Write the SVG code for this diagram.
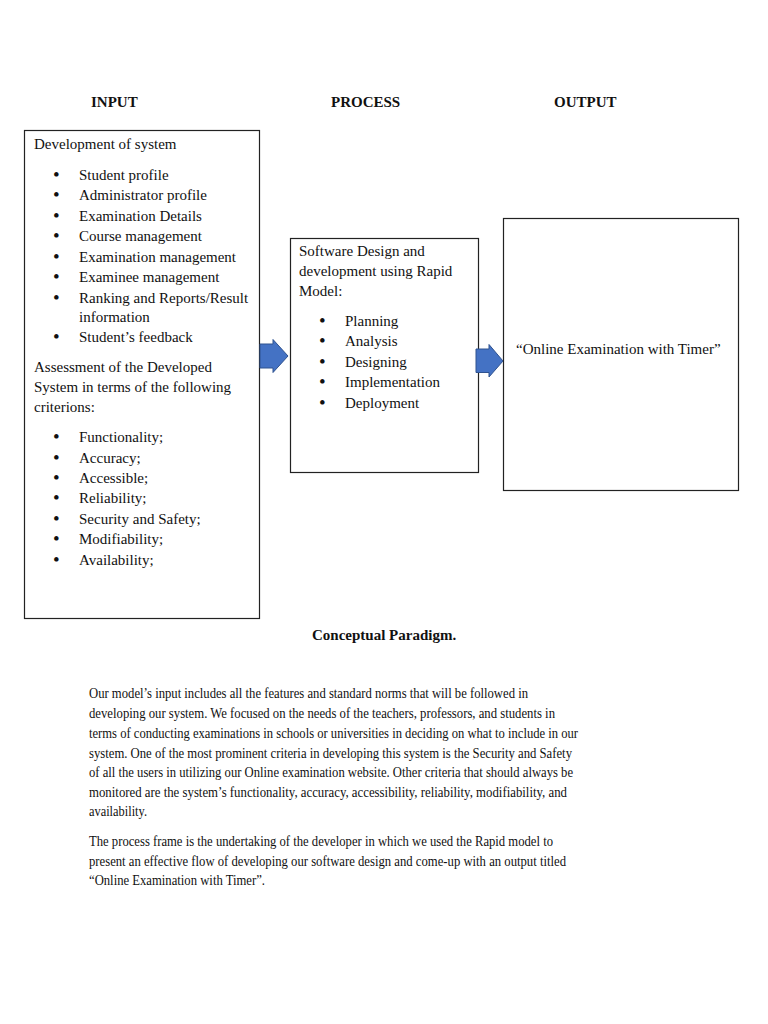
<svg xmlns="http://www.w3.org/2000/svg" width="768" height="1024" viewBox="0 0 768 1024">
<style>
text{font-family:"Liberation Serif","Times New Roman",serif;font-size:15px;fill:#111}
.h{font-weight:bold}
.b{font-size:19px}
.box{fill:#fff;stroke:#222;stroke-width:1.2}
.arrow{fill:#4472C4;stroke:#2F528F;stroke-width:1}
</style>
<rect width="768" height="1024" fill="#fff"/>
<g id="headers">
<text class="h" x="91" y="107">INPUT</text>
<text class="h" x="331" y="107">PROCESS</text>
<text class="h" x="554" y="107">OUTPUT</text>
</g>
<g id="input">
<rect class="box" x="24.5" y="130.5" width="235" height="488"/>
<text x="34" y="149">Development of system</text>
<g>
<text class="b" x="53" y="181">•</text><text x="79" y="180">Student profile</text>
<text class="b" x="53" y="201">•</text><text x="79" y="200">Administrator profile</text>
<text class="b" x="53" y="222">•</text><text x="79" y="221">Examination Details</text>
<text class="b" x="53" y="242">•</text><text x="79" y="241">Course management</text>
<text class="b" x="53" y="263">•</text><text x="79" y="262">Examination management</text>
<text class="b" x="53" y="283">•</text><text x="79" y="282">Examinee management</text>
<text class="b" x="53" y="304">•</text><text x="79" y="303">Ranking and Reports/Result</text>
<text x="79" y="322">information</text>
<text class="b" x="53" y="343">•</text><text x="79" y="342">Student’s feedback</text>
</g>
<text x="34" y="372">Assessment of the Developed</text>
<text x="34" y="392">System in terms of the following</text>
<text x="34" y="412">criterions:</text>
<g>
<text class="b" x="53" y="443">•</text><text x="79" y="442">Functionality;</text>
<text class="b" x="53" y="464">•</text><text x="79" y="463">Accuracy;</text>
<text class="b" x="53" y="484">•</text><text x="79" y="483">Accessible;</text>
<text class="b" x="53" y="504">•</text><text x="79" y="503">Reliability;</text>
<text class="b" x="53" y="525">•</text><text x="79" y="524">Security and Safety;</text>
<text class="b" x="53" y="545">•</text><text x="79" y="544">Modifiability;</text>
<text class="b" x="53" y="566">•</text><text x="79" y="565">Availability;</text>
</g>
</g>
<g id="process">
<rect class="box" x="290.5" y="238.5" width="188" height="234"/>
<text x="299" y="256">Software Design and</text>
<text x="299" y="276">development using Rapid</text>
<text x="299" y="296">Model:</text>
<text class="b" x="319" y="327">•</text><text x="345" y="326">Planning</text>
<text class="b" x="319" y="347">•</text><text x="345" y="346">Analysis</text>
<text class="b" x="319" y="368">•</text><text x="345" y="367">Designing</text>
<text class="b" x="319" y="388">•</text><text x="345" y="387">Implementation</text>
<text class="b" x="319" y="409">•</text><text x="345" y="408">Deployment</text>
</g>
<g id="output">
<rect class="box" x="503.5" y="218.5" width="235" height="272"/>
<text x="516" y="354">“Online Examination with Timer”</text>
</g>
<g id="connectors">
<polygon class="arrow" points="260,344 273,344 273,339.5 288,356 273,372.5 273,368 260,368"/>
<polygon class="arrow" points="476,349 489,349 489,344.5 503,361 489,377 489,372.5 476,372.5"/>
</g>
<g id="caption">
<text class="h" x="312" y="640">Conceptual Paradigm.</text>
</g>
<g id="paragraphs">
<text x="89" y="698" textLength="439" lengthAdjust="spacingAndGlyphs">Our model’s input includes all the features and standard norms that will be followed in</text>
<text x="89" y="718" textLength="466" lengthAdjust="spacingAndGlyphs">developing our system. We focused on the needs of the teachers, professors, and students in</text>
<text x="89" y="738" textLength="489" lengthAdjust="spacingAndGlyphs">terms of conducting examinations in schools or universities in deciding on what to include in our</text>
<text x="89" y="758" textLength="483" lengthAdjust="spacingAndGlyphs">system. One of the most prominent criteria in developing this system is the Security and Safety</text>
<text x="89" y="777" textLength="484" lengthAdjust="spacingAndGlyphs">of all the users in utilizing our Online examination website. Other criteria that should always be</text>
<text x="89" y="797" textLength="478" lengthAdjust="spacingAndGlyphs">monitored are the system’s functionality, accuracy, accessibility, reliability, modifiability, and</text>
<text x="89" y="816" textLength="58" lengthAdjust="spacingAndGlyphs">availability.</text>
<text x="89" y="846" textLength="464" lengthAdjust="spacingAndGlyphs">The process frame is the undertaking of the developer in which we used the Rapid model to</text>
<text x="89" y="866" textLength="477" lengthAdjust="spacingAndGlyphs">present an effective flow of developing our software design and come-up with an output titled</text>
<text x="89" y="885" textLength="176" lengthAdjust="spacingAndGlyphs">“Online Examination with Timer”.</text>
</g>
</svg>
